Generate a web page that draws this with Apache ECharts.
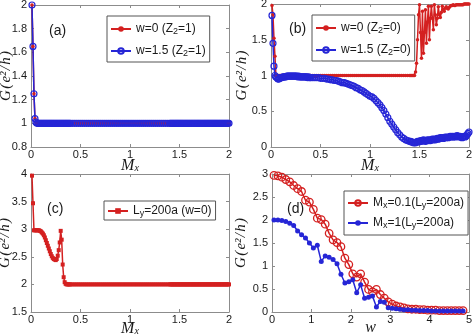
<!DOCTYPE html>
<html>
<head>
<meta charset="utf-8">
<script src="https://cdn.jsdelivr.net/npm/echarts@6/dist/echarts.min.js"></script>
<style>
  html, body { margin: 0; padding: 0; background: #fff; }
  #chart { width: 474px; height: 335px; }
</style>
</head>
<body>
<div id="chart"></div>
<script>
// ---- sample positions along M_x (shared by panels a, b, c) ----
const mx = [
  0.01,0.02,0.03,0.04,0.05,0.06,0.07,0.08,0.09,0.10,
  0.11,0.12,0.13,0.14,0.15,0.16,0.17,0.18,0.19,0.20,
  0.21,0.22,0.23,0.24,0.25,0.26,0.27,0.28,0.29,0.30,
  0.31,0.32,0.33,0.34,0.35,0.36,0.37,0.38,0.39,0.40,
  0.42,0.44,0.46,0.48,0.50,0.52,0.54,0.56,0.58,0.60,
  0.62,0.64,0.66,0.68,0.70,0.72,0.74,0.76,0.78,0.80,
  0.82,0.84,0.86,0.88,0.90,0.92,0.94,0.96,0.98,1.00,
  1.02,1.04,1.06,1.08,1.10,1.12,1.14,1.16,1.18,1.20,
  1.22,1.24,1.26,1.28,1.30,1.32,1.34,1.36,1.38,1.40,
  1.41,1.42,1.43,1.44,1.45,1.46,1.47,1.48,1.49,1.50,
  1.51,1.52,1.53,1.54,1.55,1.56,1.57,1.58,1.59,1.60,
  1.61,1.62,1.63,1.64,1.65,1.66,1.67,1.68,1.69,1.70,
  1.71,1.72,1.73,1.74,1.75,1.76,1.77,1.78,1.79,1.80,
  1.81,1.82,1.83,1.84,1.85,1.86,1.87,1.88,1.89,1.90,
  1.91,1.92,1.93,1.94,1.95,1.96,1.97,1.98,1.99,2.00
];

// ---- (a) conductance, Z2 = 1 ----
const aW0 = [
  2.00,1.65,1.25,1.04,1.01,1,1,1,1,1,
  1,1,1,1,1,1,1,1,1,1,
  1,1,1,1,1,1,1,1,1,1,
  1,1,1,1,1,1,1,1,1,1,
  1,1,1,1,1,1,1,1,1,1,
  1,1,1,1,1,1,1,1,1,1,
  1,1,1,1,1,1,1,1,1,1,
  1,1,1,1,1,1,1,1,1,1,
  1,1,1,1,1,1,1,1,1,1,
  1,1,1,1,1,1,1,1,1,1,
  1,1,1,1,1,1,1,1,1,1,
  1,1,1,1,1,1,1,1,1,1,
  1,1,1,1,1,1,1,1,1,1,
  1,1,1,1,1,1,1,1,1,1,
  1,1,1,1,1,1,1,1,1,1
];
const aW15 = [
  2.00,1.65,1.25,1.04,1.01,1,1,1,1,1,
  1,1,1,1,1,1,1,1,1,1,
  1,1,1,1,1,1,1,1,1,1,
  1,1,1,1,1,1,1,1,1,1,
  1,1,1,1,1,1,1,1,1,1,
  1,1,1,1,1,1,1,1,1,1,
  1,1,1,1,1,1,1,1,1,1,
  1,1,1,1,1,1,1,1,1,1,
  1,1,1,1,1,1,1,1,1,1,
  1,1,1,1,1,1,1,1,1,1,
  1,1,1,1,1,1,1,1,1,1,
  1,1,1,1,1,1,1,1,1,1,
  1,1,1,1,1,1,1,1,1,1,
  1,1,1,1,1,1,1,1,1,1,
  1,1,1,1,1,1,1,1,1,1
];

// ---- (b) conductance, Z2 = 0 ----
const bW0 = [
  1.98,1.85,1.52,1.27,1.00,1,1,1,1,1,
  1,1,1,1,1,1,1,1,1,1,
  1,1,1,1,1,1,1,1,1,1,
  1,1,1,1,1,1,1,1,1,1,
  1,1,1,1,1,1,1,1,1,1,
  1,1,1,1,1,1,1,1,1,1,
  1,1,1,1,1,1,1,1,1,1,
  1,1,1,1,1,1,1,1,1,1,
  1,1,1,1,1,1,1,1,1,1,
  1.00,1.00,1.00,1.00,1.00,1.05,1.17,1.50,1.85,1.99,
  1.60,1.24,1.90,1.31,1.60,1.92,1.45,1.75,1.97,1.50,
  1.80,1.97,1.80,1.64,1.99,1.85,1.71,1.80,1.96,1.85,
  1.81,1.88,1.97,1.92,1.90,1.94,1.96,1.94,1.93,1.95,
  1.97,1.98,1.98,1.99,1.98,1.98,1.99,1.99,1.99,1.99,
  1.99,1.99,1.99,1.99,2.00,2.00,2.00,2.00,2.00,2.00
];
const bW15 = [
  1.84,1.45,1.13,1.00,0.98,0.97,0.95,0.95,0.96,0.97,
  0.97,0.98,0.98,0.98,0.98,0.99,0.99,0.99,0.99,0.99,
  0.99,0.99,0.99,0.99,0.99,0.99,0.98,0.99,0.98,0.98,
  0.98,0.98,0.98,0.98,0.98,0.98,0.97,0.98,0.97,0.97,
  0.97,0.97,0.97,0.97,0.96,0.96,0.96,0.95,0.95,0.94,
  0.94,0.93,0.93,0.92,0.91,0.90,0.90,0.89,0.88,0.87,
  0.86,0.85,0.83,0.82,0.80,0.79,0.77,0.75,0.73,0.71,
  0.70,0.68,0.65,0.62,0.59,0.55,0.51,0.46,0.41,0.36,
  0.32,0.28,0.24,0.20,0.17,0.14,0.12,0.10,0.09,0.08,
  0.08,0.07,0.07,0.06,0.06,0.06,0.07,0.08,0.07,0.08,
  0.09,0.08,0.09,0.10,0.09,0.08,0.09,0.10,0.09,0.10,
  0.09,0.10,0.11,0.10,0.11,0.10,0.11,0.12,0.11,0.12,
  0.13,0.12,0.13,0.12,0.13,0.14,0.13,0.14,0.13,0.14,
  0.15,0.14,0.15,0.14,0.15,0.14,0.15,0.16,0.15,0.14,
  0.15,0.14,0.13,0.14,0.15,0.14,0.15,0.17,0.19,0.21
];

// ---- (c) conductance for L_y = 200a ----
const cLy = [
  3.97,3.47,2.98,2.98,2.98,2.98,2.98,2.98,2.97,2.96,
  2.94,2.92,2.89,2.85,2.80,2.75,2.70,2.65,2.60,2.55,
  2.51,2.48,2.46,2.45,2.44,2.46,2.52,2.62,2.76,2.97,
  2.81,2.36,2.13,2.04,2.01,2.00,2.00,2.00,2.00,2.00,
  2,2,2,2,2,2,2,2,2,2,
  2,2,2,2,2,2,2,2,2,2,
  2,2,2,2,2,2,2,2,2,2,
  2,2,2,2,2,2,2,2,2,2,
  2,2,2,2,2,2,2,2,2,2,
  2,2,2,2,2,2,2,2,2,2,
  2,2,2,2,2,2,2,2,2,2,
  2,2,2,2,2,2,2,2,2,2,
  2,2,2,2,2,2,2,2,2,2,
  2,2,2,2,2,2,2,2,2,2,
  2,2,2,2,2,2,2,2,2,2
];

// ---- (d) conductance versus disorder strength w ----
const w = [
  0.05,0.15,0.25,0.35,0.45,0.55,0.65,0.75,0.85,0.95,
  1.05,1.15,1.25,1.35,1.45,1.55,1.65,1.75,1.85,1.95,
  2.05,2.15,2.25,2.35,2.45,2.55,2.65,2.75,2.85,2.95,
  3.05,3.15,3.25,3.35,3.45,3.55,3.65,3.75,3.85,3.95,
  4.05,4.15,4.25,4.35,4.45,4.55,4.65,4.75,4.85
];
const dMx01 = [
  2.97,2.96,2.93,2.88,2.83,2.75,2.68,2.62,2.43,2.39,
  2.23,2.04,2.01,1.91,1.71,1.57,1.51,1.42,1.17,1.03,
  0.83,0.76,0.83,0.65,0.49,0.44,0.49,0.38,0.30,0.22,
  0.17,0.13,0.11,0.09,0.07,0.06,0.06,0.05,0.05,0.04,
  0.04,0.04,0.03,0.03,0.03,0.03,0.03,0.03,0.03
];
const dMx1 = [
  2.00,2.00,1.99,1.97,1.93,1.88,1.76,1.68,1.61,1.50,
  1.39,1.45,1.10,1.22,1.19,1.14,1.05,0.82,0.63,0.66,
  0.70,0.42,0.59,0.30,0.32,0.35,0.11,0.23,0.21,0.09,
  0.08,0.07,0.06,0.05,0.05,0.04,0.04,0.03,0.03,0.03,
  0.02,0.02,0.02,0.02,0.02,0.02,0.02,0.02,0.02
];

// ---- tick labels ----
const ticksMx = [0, 0.5, 1, 1.5, 2];
const ticksW = [0, 1, 2, 3, 4, 5];
const ticksA = [0.8, 1, 1.2, 1.4, 1.6, 1.8, 2];
const ticksB = [0, 0.5, 1, 1.5, 2];
const ticksC = [1.5, 2, 2.5, 3, 3.5, 4];
const ticksD = [0, 0.5, 1, 1.5, 2, 2.5, 3];

// ---- series names and their legend text (with subscripts) ----
const names = {
  aW0: 'w=0 (Z2=1)', aW15: 'w=1.5 (Z2=1)',
  bW0: 'w=0 (Z2=0)', bW15: 'w=1.5 (Z2=0)',
  cLy: 'Ly=200a (w=0)',
  dMx01: 'Mx=0.1(Ly=200a)', dMx1: 'Mx=1(Ly=200a)'
};
const legendText = {
  'w=0 (Z2=1)': 'w=0 (Z{s|2}=1)',
  'w=1.5 (Z2=1)': 'w=1.5 (Z{s|2}=1)',
  'w=0 (Z2=0)': 'w=0 (Z{s|2}=0)',
  'w=1.5 (Z2=0)': 'w=1.5 (Z{s|2}=0)',
  'Ly=200a (w=0)': 'L{s|y}=200a (w=0)',
  'Mx=0.1(Ly=200a)': 'M{s|x}=0.1(L{s|y}=200a)',
  'Mx=1(Ly=200a)': 'M{s|x}=1(L{s|y}=200a)'
};

const RED = '#d42020';
const BLUE = '#2626d6';
const FRAME = '#8c8c8c';
const INK = '#1a1a1a';
const SANS = '"Liberation Sans", Arial, sans-serif';
const SERIF = '"Liberation Serif", "Times New Roman", serif';
const HAIR = '\u200A';

const pairs = (xs, ys) => xs.map((x, i) => [x, ys[i]]);
const tickText = v => String(Math.round(v * 100) / 100);

// panel boxes: left, top, width, height
const boxes = [
  { left: 31, top: 5, width: 198, height: 142 },
  { left: 271, top: 4, width: 198, height: 143 },
  { left: 31, top: 174, width: 198, height: 138 },
  { left: 272, top: 174, width: 197, height: 138 }
];

const mxName = '{i|M}{s|x}';
const nameRich = {
  i: { fontFamily: SERIF, fontStyle: 'italic', fontSize: 16, color: INK, lineHeight: 14 },
  s: { fontFamily: SERIF, fontStyle: 'italic', fontSize: 10, color: INK, lineHeight: 6, verticalAlign: 'bottom' }
};
const gName = ['G', '(', 'e²', '/', 'h', ')'].join(HAIR);

function axisBase(gi, ticks) {
  return {
    type: 'value', gridIndex: gi,
    min: ticks[0], max: ticks[ticks.length - 1], interval: ticks[1] - ticks[0],
    axisLine: { show: true, onZero: false, lineStyle: { color: FRAME, width: 1 } },
    axisTick: { show: true, inside: true, length: 3, lineStyle: { color: FRAME } },
    splitLine: { show: false }
  };
}

function xAxes(gi, ticks, name, gap) {
  const base = axisBase(gi, ticks);
  return [
    Object.assign({}, base, {
      position: 'bottom',
      axisLabel: { color: INK, fontSize: 11, fontFamily: SANS, margin: 2, formatter: tickText },
      name: name, nameLocation: 'middle', nameGap: gap, nameMoveOverlap: false,
      nameTextStyle: { rich: nameRich }
    }),
    Object.assign({}, base, { position: 'top', axisLabel: { show: false } })
  ];
}

function yAxes(gi, ticks, gap) {
  const base = axisBase(gi, ticks);
  return [
    Object.assign({}, base, {
      position: 'left',
      axisLabel: { color: INK, fontSize: 11, fontFamily: SANS, margin: 4, formatter: tickText },
      name: gName, nameLocation: 'middle', nameGap: gap, nameMoveOverlap: false,
      nameTextStyle: { fontFamily: SERIF, fontStyle: 'italic', fontSize: 15, color: INK }
    }),
    Object.assign({}, base, { position: 'right', axisLabel: { show: false } })
  ];
}

function lineSeries(name, gi, xs, ys, color, marker) {
  const s = {
    type: 'line', name: name,
    xAxisIndex: gi * 2, yAxisIndex: gi * 2,
    data: pairs(xs, ys),
    lineStyle: { color: color, width: 1.5 },
    emphasis: { disabled: true },
    animation: false
  };
  if (marker === 'dot') {
    s.symbol = 'circle'; s.symbolSize = 3.5;
    s.itemStyle = { color: color };
  } else if (marker === 'square') {
    s.symbol = 'rect'; s.symbolSize = 4;
    s.itemStyle = { color: color };
  } else if (marker === 'ring') {
    s.symbol = 'circle'; s.symbolSize = 6;
    s.itemStyle = { color: 'rgba(255,255,255,0)', borderColor: color, borderWidth: 1.2 };
  } else if (marker === 'bigring') {
    s.symbol = 'circle'; s.symbolSize = 7.5;
    s.itemStyle = { color: 'rgba(255,255,255,0)', borderColor: color, borderWidth: 1.3 };
  } else if (marker === 'fill') {
    s.symbol = 'circle'; s.symbolSize = 5;
    s.itemStyle = { color: color };
  }
  return s;
}

function legend(list, left, top, padding, gap) {
  return {
    data: list, orient: 'vertical', left: left, top: top,
    padding: padding, itemGap: gap, itemWidth: 20, itemHeight: 7,
    backgroundColor: '#fff', borderColor: '#555', borderWidth: 1,
    selectedMode: false,
    formatter: n => legendText[n],
    textStyle: {
      fontSize: 12, fontFamily: SANS, color: INK, lineHeight: 14,
      rich: { s: { fontSize: 9, fontFamily: SANS, color: INK, lineHeight: 7, verticalAlign: 'bottom' } }
    }
  };
}

const option = {
  backgroundColor: '#fff',
  animation: false,
  grid: boxes.map(b => Object.assign({ containLabel: false, outerBoundsMode: 'none' }, b)),
  xAxis: [].concat(
    xAxes(0, ticksMx, mxName, 12),
    xAxes(1, ticksMx, mxName, 12),
    xAxes(2, ticksMx, mxName, 10),
    xAxes(3, ticksW, '{i|w}', 9)
  ),
  yAxis: [].concat(
    yAxes(0, ticksA, 17),
    yAxes(1, ticksB, 21),
    yAxes(2, ticksC, 18),
    yAxes(3, ticksD, 23)
  ),
  legend: [
    legend([names.aW0, names.aW15], 107, 16, [6, 4, 4, 3], 8),
    legend([names.bW0, names.bW15], 312, 15, [6, 4, 4, 3], 8),
    legend([names.cLy], 104, 201, [3, 4, 2, 3], 0),
    legend([names.dMx01, names.dMx1], 344, 191, [5, 4, 5, 3], 6)
  ],
  series: [
    lineSeries(names.aW0, 0, mx, aW0, RED, 'dot'),
    Object.assign(lineSeries(names.aW15, 0, mx, aW15, BLUE, 'ring'), { z: 3 }),
    lineSeries(names.bW0, 1, mx, bW0, RED, 'dot'),
    Object.assign(lineSeries(names.bW15, 1, mx, bW15, BLUE, 'ring'), { z: 3 }),
    lineSeries(names.cLy, 2, mx, cLy, RED, 'square'),
    lineSeries(names.dMx01, 3, w, dMx01, RED, 'bigring'),
    Object.assign(lineSeries(names.dMx1, 3, w, dMx1, BLUE, 'fill'), { z: 3 })
  ],
  graphic: [
    { type: 'text', x: 49, y: 24, style: { text: '(a)', fontSize: 14, fontFamily: SANS, fill: INK } },
    { type: 'text', x: 289, y: 22, style: { text: '(b)', fontSize: 14, fontFamily: SANS, fill: INK } },
    { type: 'text', x: 47, y: 202, style: { text: '(c)', fontSize: 14, fontFamily: SANS, fill: INK } },
    { type: 'text', x: 287, y: 202, style: { text: '(d)', fontSize: 14, fontFamily: SANS, fill: INK } }
  ]
};

const chart = echarts.init(document.getElementById('chart'), null, { renderer: 'canvas' });
chart.setOption(option);
</script>
</body>
</html>
